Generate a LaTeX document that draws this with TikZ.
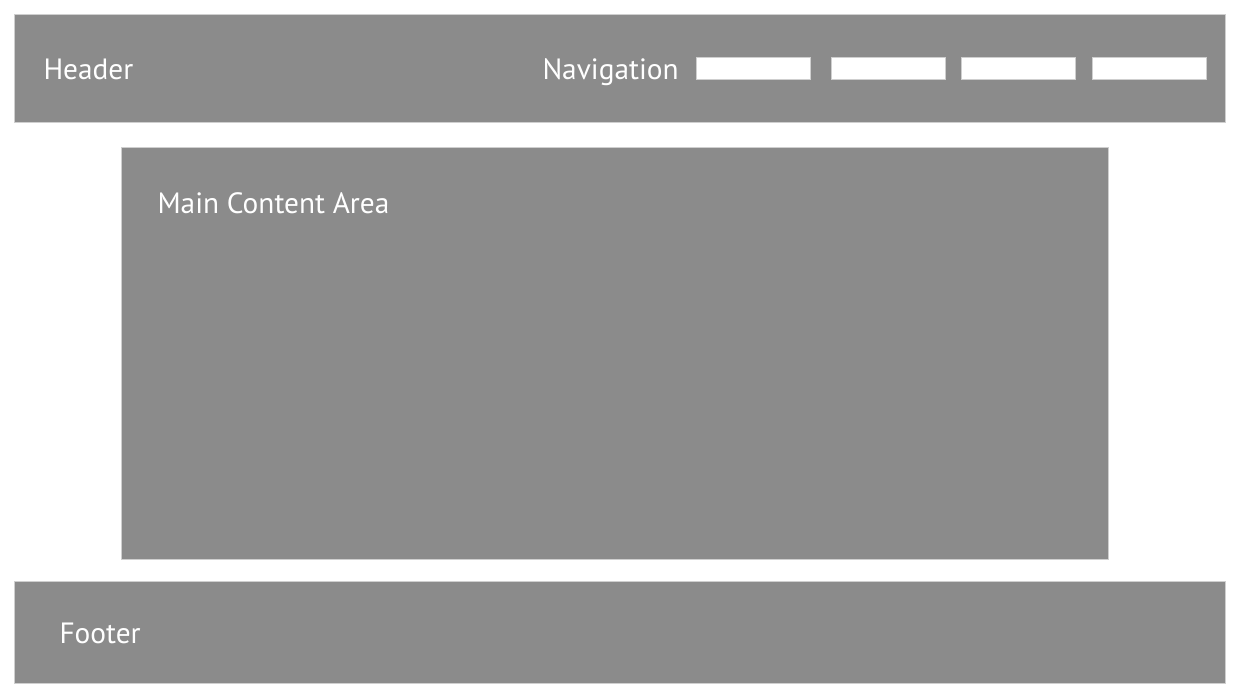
\documentclass[tikz,border=0pt]{standalone}
\usepackage{fontspec}
\setmainfont{PT Sans}
\definecolor{panelgray}{HTML}{8B8B8B}
\definecolor{edgegray}{HTML}{CFCFCF}
\tikzset{every picture/.style={line width=0.75pt}}
\tikzset{
  panel/.style={fill=panelgray, draw=edgegray, line width=0.75pt},
  navbtn/.style={fill=white, draw=edgegray, line width=0.5pt},
  label/.style={text=white, font=\fontsize{22}{26}\selectfont, inner sep=0pt, anchor=base west}
}

\begin{document}
\begin{tikzpicture}[x=0.75pt,y=0.75pt,yscale=-1,xscale=1]
\useasboundingbox (0,0) rectangle (1240,697);

% Header bar
\draw[panel] (14,14) rectangle (1225,122);
% Main content
\draw[panel] (121,147) rectangle (1108,559);
% Footer bar
\draw[panel] (14,581) rectangle (1225,683);

% Navigation buttons
\draw[navbtn] (696,57) rectangle (810,79);
\draw[navbtn] (831,57) rectangle (945,79);
\draw[navbtn] (961,57) rectangle (1075,79);
\draw[navbtn] (1092,57) rectangle (1206,79);

% Text Node
\node[label] (header) at (43,79) {Header};
% Text Node
\node[label] (nav) at (542,79) {Navigation};
% Text Node
\node[label] (main) at (157,213) {Main Content Area};
% Text Node
\node[label] (footer) at (59,643) {Footer};

\end{tikzpicture}
\end{document}
